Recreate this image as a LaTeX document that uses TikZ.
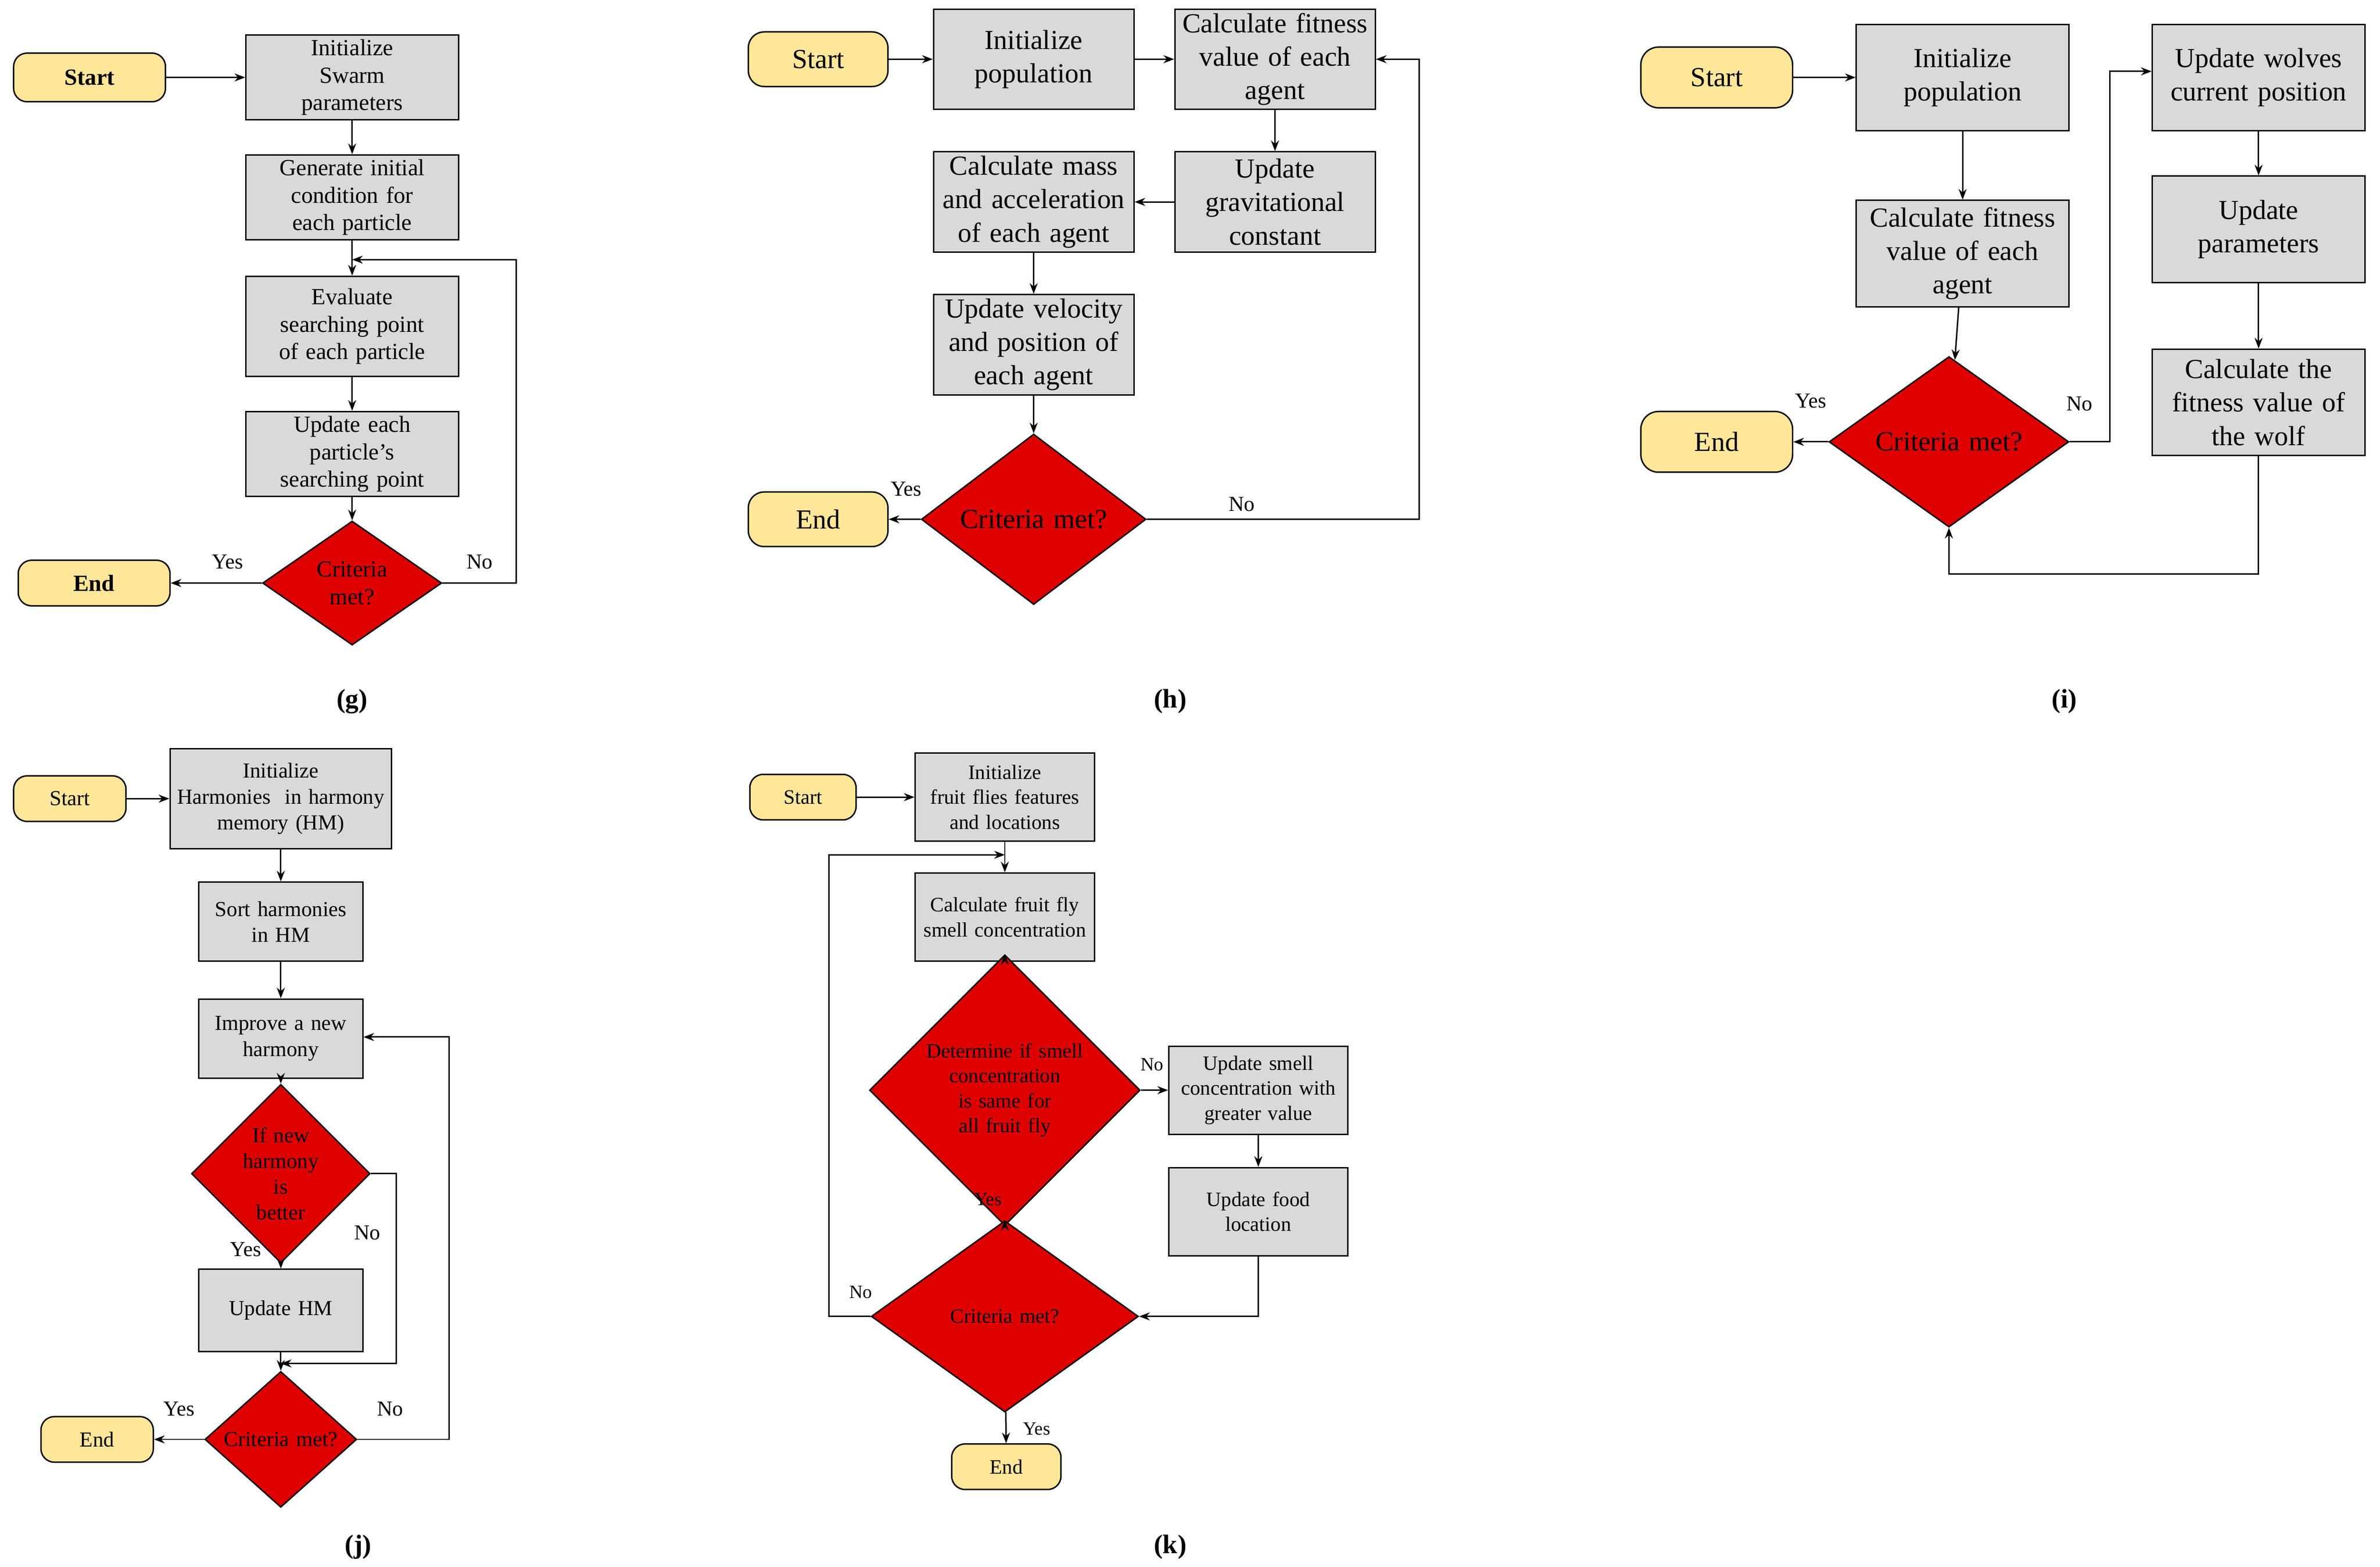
\documentclass[tikz,border=0pt]{standalone}
\usepackage{fontspec}
\setmainfont{Liberation Serif}
\usetikzlibrary{shapes.geometric,arrows.meta}
\definecolor{boxgray}{HTML}{D9D9D9}
\definecolor{termyel}{HTML}{FFE699}
\definecolor{decred}{HTML}{DF0000}
\tikzset{
  box/.style={draw,thick,fill=boxgray,align=center,inner sep=1pt},
  term/.style={draw,thick,fill=termyel,rounded corners=7.5pt,align=center},
  dec/.style={draw,thick,fill=decred,diamond,inner sep=0pt,align=center},
  arr/.style={thick,-{Stealth[length=6pt]}},
  lbl/.style={font=\fontsize{12}{14}\selectfont}
}
\begin{document}
\begin{tikzpicture}[x=0.03cm,y=-0.03cm]
  \useasboundingbox (0,0) rectangle (1568,1032);

  % (g)
  \begin{scope}[font=\fontsize{13}{15.4}\selectfont]
  \node[term,font=\fontsize{13}{15}\bfseries,minimum width=3cm,minimum height=0.96cm] (gs) at (59,51) {Start};
  \node[box,minimum width=4.2cm,minimum height=1.68cm,text width=3.9cm] (g1) at (232,51) {Initialize\\Swarm\\parameters};
  \node[box,minimum width=4.2cm,minimum height=1.68cm,text width=3.9cm] (g2) at (232,130) {Generate initial\\condition for\\each particle};
  \node[box,minimum width=4.2cm,minimum height=1.98cm,text width=3.9cm] (g3) at (232,215) {Evaluate\\searching point\\of each particle};
  \node[box,minimum width=4.2cm,minimum height=1.68cm,text width=3.9cm] (g4) at (232,299) {Update each\\particle's\\searching point};
  \node[dec,minimum width=3.54cm,minimum height=2.04cm,text width=1.6cm] (gd) at (232,384) {Criteria\\met?};
  \node[term,font=\fontsize{13}{15}\bfseries,minimum width=3cm,minimum height=0.9cm] (ge) at (62,384) {End};
  \coordinate (gl) at (232,171);
  \end{scope}
  \draw[arr] (gs) -- (g1);
  \draw[arr] (g1) -- (g2);
  \draw[arr] (g2) -- (g3);
  \draw[arr] (g3) -- (g4);
  \draw[arr] (g4) -- (gd);
  \draw[arr] (gd) -- (ge);
  \draw[arr] (gd.east) -- (340,384) -- (340,171) -- (gl);
  \node[lbl] at (316,370) {No};
  \node[lbl] at (150,370) {Yes};
  \node[font=\fontsize{15}{18}\bfseries] at (232,462) {(g)};

  % (h)
  \begin{scope}[font=\fontsize{15.5}{18.8}\selectfont]
  \node[term,minimum width=2.76cm,minimum height=1.08cm,rounded corners=9pt] (hs) at (539,39) {Start};
  \node[box,minimum width=3.96cm,minimum height=1.98cm,text width=3.8cm] (h1) at (681,39) {Initialize\\population};
  \node[box,minimum width=3.96cm,minimum height=1.98cm,text width=3.8cm] (h2) at (840,39) {Calculate fitness\\value of each\\agent};
  \node[box,minimum width=3.96cm,minimum height=1.98cm,text width=3.8cm] (h3) at (840,133) {Update\\gravitational\\constant};
  \node[box,minimum width=3.96cm,minimum height=1.98cm,text width=3.8cm] (h4) at (681,133) {Calculate mass\\and acceleration\\of each agent};
  \node[box,minimum width=3.96cm,minimum height=1.98cm,text width=3.8cm] (h5) at (681,227) {Update velocity\\and position of\\each agent};
  \node[dec,minimum width=4.44cm,minimum height=3.18cm,text width=3cm] (hd) at (681,342) {Criteria met?};
  \node[term,minimum width=2.76cm,minimum height=1.08cm,rounded corners=9pt] (he) at (539,342) {End};
  \end{scope}
  \draw[arr] (hs) -- (h1);
  \draw[arr] (h1) -- (h2);
  \draw[arr] (h2) -- (h3);
  \draw[arr] (h3) -- (h4);
  \draw[arr] (h4) -- (h5);
  \draw[arr] (h5) -- (hd);
  \draw[arr] (hd) -- (he);
  \draw[arr] (hd.east) -- (935,342) -- (935,39) -- (h2.east);
  \node[lbl] at (818,332) {No};
  \node[lbl] at (597,322) {Yes};
  \node[font=\fontsize{15}{18}\bfseries] at (771,462) {(h)};

  % (i)
  \begin{scope}[font=\fontsize{15.5}{18.8}\selectfont]
  \node[term,minimum width=3cm,minimum height=1.2cm,rounded corners=10pt] (is) at (1131,51) {Start};
  \node[box,minimum width=4.2cm,minimum height=2.1cm,text width=4cm] (i1) at (1293,51) {Initialize\\population};
  \node[box,minimum width=4.2cm,minimum height=2.1cm,text width=4cm] (i2) at (1293,167) {Calculate fitness\\value of each\\agent};
  \node[dec,minimum width=4.74cm,minimum height=3.36cm,text width=3cm] (id) at (1284,291) {Criteria met?};
  \node[term,minimum width=3cm,minimum height=1.2cm,rounded corners=10pt] (ie) at (1131,291) {End};
  \node[box,minimum width=4.2cm,minimum height=2.1cm,text width=4cm] (i3) at (1488,51) {Update wolves\\current position};
  \node[box,minimum width=4.2cm,minimum height=2.1cm,text width=4cm] (i4) at (1488,151) {Update\\parameters};
  \node[box,minimum width=4.2cm,minimum height=2.1cm,text width=4cm] (i5) at (1488,265) {Calculate the\\fitness value of\\the wolf};
  \end{scope}
  \draw[arr] (is) -- (i1);
  \draw[arr] (i1) -- (i2);
  \draw[arr] (i2) -- (id);
  \draw[arr] (id) -- (ie);
  \draw[arr] (id.east) -- (1390,291) -- (1390,47) -- (i3.west |- 0,47);
  \draw[arr] (i3) -- (i4);
  \draw[arr] (i4) -- (i5);
  \draw[arr] (i5.south) -- (1488,378) -- (1284,378) -- (id.south);
  \node[lbl] at (1370,266) {No};
  \node[lbl] at (1193,264) {Yes};
  \node[font=\fontsize{15}{18}\bfseries] at (1360,462) {(i)};

  % (j)
  \begin{scope}[font=\fontsize{12}{14.5}\selectfont]
  \node[term,minimum width=2.22cm,minimum height=0.9cm] (js) at (46,526) {Start};
  \node[box,minimum width=4.38cm,minimum height=1.98cm,text width=4.3cm] (j1) at (185,526) {Initialize\\Harmonies~ in harmony\\memory (HM)};
  \node[box,minimum width=3.24cm,minimum height=1.56cm,text width=3.1cm] (j2) at (185,607) {Sort harmonies\\in HM};
  \node[box,minimum width=3.24cm,minimum height=1.56cm,text width=3.1cm] (j3) at (185,684) {Improve a new\\harmony};
  \node[dec,minimum width=3.48cm,minimum height=2.4cm,text width=1.7cm] (jd1) at (185,773) {If new\\harmony is\\better};
  \node[box,minimum width=3.24cm,minimum height=1.62cm,text width=3.1cm] (j4) at (185,863) {Update HM};
  \node[dec,minimum width=3cm,minimum height=2.1cm,text width=2.4cm] (jd2) at (185,948) {Criteria met?};
  \node[term,minimum width=2.22cm,minimum height=0.9cm] (je) at (64,948) {End};
  \coordinate (jl) at (185,898);
  \end{scope}
  \draw[arr] (js) -- (j1);
  \draw[arr] (j1) -- (j2);
  \draw[arr] (j2) -- (j3);
  \draw[arr] (j3) -- (jd1);
  \draw[arr] (jd1) -- (j4);
  \draw[arr] (j4) -- (jd2);
  \draw[arr] (jd2) -- (je);
  \draw[arr] (jd1.east) -- (261,773) -- (261,898) -- (jl);
  \draw[arr] (jd2.east) -- (296,948) -- (296,683) -- (j3.east |- 0,683);
  \node[lbl] at (242,812) {No};
  \node[lbl] at (162,823) {Yes};
  \node[lbl] at (257,928) {No};
  \node[lbl] at (118,928) {Yes};
  \node[font=\fontsize{15}{18}\bfseries] at (236,1019) {(j)};

  % (k)
  \begin{scope}[font=\fontsize{11.5}{14}\selectfont]
  \node[term,minimum width=2.1cm,minimum height=0.9cm] (ks) at (529,525) {Start};
  \node[box,minimum width=3.54cm,minimum height=1.74cm,text width=3.4cm] (k1) at (662,525) {Initialize\\fruit flies features\\and locations};
  \node[box,minimum width=3.54cm,minimum height=1.74cm,text width=3.4cm] (k2) at (662,604) {Calculate fruit fly\\smell concentration};
  \node[dec,minimum width=5.28cm,minimum height=3.78cm,text width=3.5cm] (kd1) at (662,718) {Determine if smell\\concentration is same for\\all fruit fly};
  \node[box,minimum width=3.54cm,minimum height=1.74cm,text width=3.4cm] (k3) at (829,718) {Update smell\\concentration with\\greater value};
  \node[box,minimum width=3.54cm,minimum height=1.74cm,text width=3.4cm] (k4) at (829,798) {Update food\\location};
  \node[dec,minimum width=5.28cm,minimum height=3.78cm,text width=3cm] (kd2) at (662,867) {Criteria met?};
  \node[term,minimum width=2.16cm,minimum height=0.9cm] (ke) at (663,966) {End};
  \coordinate (kl) at (662,563);
  \end{scope}
  \draw[arr] (ks) -- (k1);
  \draw[arr] (k1) -- (k2);
  \draw[arr] (k2) -- (kd1);
  \draw[arr] (kd1) -- (k3);
  \draw[arr] (k3) -- (k4);
  \draw[arr] (kd1) -- (kd2);
  \draw[arr] (kd2) -- (ke);
  \draw[arr] (k4.south) -- (829,867) -- (kd2.east);
  \draw[arr] (kd2.west) -- (546,867) -- (546,563) -- (kl);
  \node[lbl,font=\fontsize{10.5}{12}\selectfont] at (567,851) {No};
  \node[lbl,font=\fontsize{10.5}{12}\selectfont] at (759,701) {No};
  \node[lbl,font=\fontsize{10.5}{12}\selectfont] at (651,790) {Yes};
  \node[lbl,font=\fontsize{10.5}{12}\selectfont] at (683,941) {Yes};
  \node[font=\fontsize{15}{18}\bfseries] at (771,1019) {(k)};
\end{tikzpicture}
\end{document}
